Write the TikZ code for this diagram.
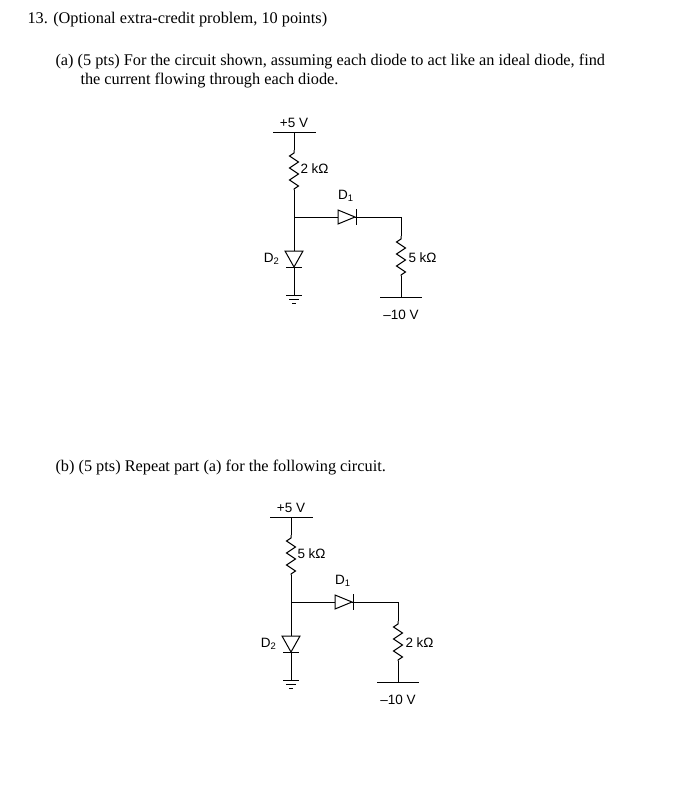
\documentclass[tikz,border=0pt]{standalone}
\usepackage{fontspec}
\setmainfont{Liberation Serif}
\newfontfamily\arialf{Liberation Sans}
\begin{document}
\begin{tikzpicture}[x=1pt,y=-1pt,line width=1pt,
  body/.style={anchor=base west,inner sep=0pt,font=\fontsize{16.3}{19}\selectfont},
  lab/.style={inner sep=1pt,font=\arialf\fontsize{13.5}{15}\selectfont},
  res/.pic={\draw (0,0)--(0,3)--(-4.5,6)--(4.5,12)--(-4.5,18)--(4.5,24)--(-4.5,30)--(4.5,36)--(0,39)--(0,40);}]
\useasboundingbox (0,0) rectangle (683,807);
\node[body] (t1) at (27,23) {13. (Optional extra-credit problem, 10 points)};
\node[body] (t2) at (55,65) {(a) (5 pts) For the circuit shown, assuming each diode to act like an ideal diode, find};
\node[body] (t3) at (80,84) {the current flowing through each diode.};
\node[body] (t4) at (55,471) {(b) (5 pts) Repeat part (a) for the following circuit.};
\foreach \dx/\dy/\ra/\rb/\nm in {0/0/2/5/a,-3/385/5/2/b}{
\begin{scope}[shift={(\dx,\dy)}]
  \coordinate (\nm top) at (294,132);
  \draw (273,132)--(316,132);
  \node[lab,anchor=south] (\nm vp) at (294,129) {+5 V};
  \draw (294,132)--(294,150);
  \pic at (294,150) {res};
  \node[lab,anchor=west] (\nm r1) at (299,169) {\ra\ kΩ};
  \coordinate (\nm j) at (294,217);
  \draw (294,190)--(\nm j)--(338,217);
  \draw (338,210)--(338,224)--(355,217)--cycle;
  \draw (356,209)--(356,225);
  \node[lab] (\nm d1) at (346,196) {D\textsubscript{1}};
  \draw (355,217)--(401,217)--(401,236);
  \pic at (401,236) {res};
  \node[lab,anchor=west] (\nm r2) at (407,258) {\rb\ kΩ};
  \draw (401,276)--(401,297);
  \draw (380,297)--(422,297);
  \node[lab] (\nm vm) at (401,315) {–10 V};
  \draw (294,217)--(294,251);
  \draw (285,251)--(303,251)--(294,267)--cycle;
  \draw (286,267)--(302,267);
  \node[lab,anchor=east] (\nm d2) at (281,259) {D\textsubscript{2}};
  \draw (294,267)--(294,295);
  \draw (286,295)--(302,295);
  \draw (289,299)--(299,299);
  \draw (292,303)--(296,303);
\end{scope}}
\end{tikzpicture}
\end{document}
